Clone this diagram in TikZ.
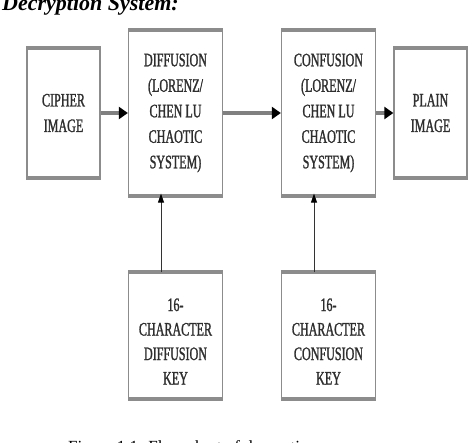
\documentclass[tikz,border=0pt]{standalone}
\usepackage{fontspec}
\setmainfont{Liberation Serif}
\newfontfamily\boxfont[FakeStretch=0.635,FakeBold=1.2]{Liberation Serif}
\usetikzlibrary{arrows.meta}
\definecolor{bordergray}{gray}{0.55}
\definecolor{shaftgray}{gray}{0.5}
\definecolor{txtgray}{gray}{0.18}
\tikzset{
  box/.style={draw=bordergray, line width=1.3pt, fill=white, inner sep=0pt,
    minimum width=94pt, align=center, text=txtgray,
    font=\boxfont\fontsize{19}{25.5}\selectfont},
  smallbox/.style={box, minimum width=73pt, minimum height=128pt},
  bigbox/.style={box, minimum height=164pt},
  keybox/.style={box, minimum height=125pt},
  keytext/.style={inner sep=0pt, align=center, text=txtgray,
    font=\boxfont\fontsize{19}{24.5}\selectfont},
  thickedge/.style={draw=bordergray, line width=4pt},
  flow/.style={draw=shaftgray, line width=4.5pt,
    -{Triangle[color=black, length=9pt, width=12pt]}},
  keyarrow/.style={draw=black!80, line width=1pt,
    -{Triangle[color=black, length=9pt, width=6pt]}},
  titletext/.style={inner sep=0pt, anchor=base west,
    font=\bfseries\itshape\fontsize{22}{26}\selectfont},
  captext/.style={inner sep=0pt, anchor=base west,
    font=\fontsize{17}{20}\selectfont}
}
\begin{document}
\begin{tikzpicture}[x=1pt,y=-1pt]
\useasboundingbox (0,0) rectangle (474,442);
\clip (0,0) rectangle (474,442);
\fill[white] (0,0) rectangle (474,442);

\node[titletext] (title) at (2,10.5) {Decryption System:};

\node[smallbox] (cipher) at (63.5,113) {CIPHER\\IMAGE};
\node[bigbox] (diff) at (175.5,113) {DIFFUSION\\(LORENZ/\\CHEN LU\\CHAOTIC\\SYSTEM)};
\node[bigbox] (conf) at (328.5,113) {CONFUSION\\(LORENZ/\\CHEN LU\\CHAOTIC\\SYSTEM)};
\node[smallbox] (plain) at (430.5,113) {PLAIN\\IMAGE};

\node[keybox] (dkey) at (175.5,335.5) {};
\node[keytext] (dkeyt) at (175.5,341.5) {16-\\CHARACTER\\DIFFUSION\\KEY};
\node[keybox] (ckey) at (328.5,335.5) {};
\node[keytext] (ckeyt) at (328.5,341.5) {16-\\CHARACTER\\CONFUSION\\KEY};

\foreach \n in {cipher,diff,conf,plain,dkey,ckey}{
  \draw[thickedge] (\n.north west) -- (\n.north east);
  \draw[thickedge] (\n.south west) -- (\n.south east);
}

\draw[flow] (cipher.east) -- (diff.west);
\draw[flow] (diff.east) -- (conf.west);
\draw[flow] (conf.east) -- (plain.west);

\draw[keyarrow] ([xshift=-14.5pt]dkey.north) -- ([xshift=-14.5pt,yshift=2pt]diff.south);
\draw[keyarrow] ([xshift=-14.5pt]ckey.north) -- ([xshift=-14.5pt,yshift=2pt]conf.south);

\node[captext] (caption) at (68,452.5) {Figure 1.1: Flow chart of decryption};
\end{tikzpicture}
\end{document}
